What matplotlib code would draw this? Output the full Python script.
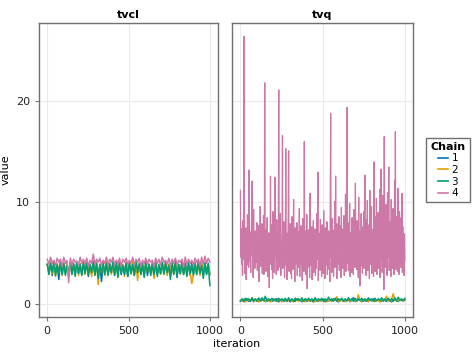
import numpy as np
import matplotlib.pyplot as plt

# chain colours (Wong palette)
colors = ["#0072B2", "#E69F00", "#009E73", "#CC79A7"]
chains = ["1", "2", "3", "4"]

# tvcl traces, sampled every 10 iterations
tvcl_1 = [3.9,3.0,4.1,2.8,4.0,3.1,3.8,2.4,4.1,2.9,
          4.0,3.1,3.9,2.8,4.2,3.0,3.9,2.9,4.1,3.0,
          3.8,2.9,4.0,3.1,4.1,2.7,3.9,3.0,4.2,2.9,
          4.0,2.8,3.7,2.2,3.9,3.0,4.1,2.9,4.0,3.1,
          3.9,2.8,4.2,3.0,4.0,2.9,3.8,3.1,4.1,2.7,
          4.0,3.0,3.9,2.8,4.2,3.1,3.9,2.9,4.0,3.0,
          4.1,2.8,3.9,3.1,4.0,2.7,4.2,2.9,3.8,3.0,
          4.0,3.1,4.1,2.9,3.9,2.8,4.0,3.0,4.2,2.6,
          3.9,3.0,4.1,2.9,4.0,3.1,3.8,2.8,4.1,3.0,
          4.0,2.9,4.2,3.1,3.9,2.8,4.1,3.0,4.0,2.9]
tvcl_2 = [3.8,2.9,4.1,3.0,3.9,2.7,4.0,3.1,4.2,2.8,
          3.9,3.0,4.1,2.6,4.0,2.9,3.8,3.1,4.1,2.8,
          4.0,3.0,3.9,2.9,4.2,3.1,3.8,2.7,4.0,3.0,
          4.1,1.9,3.9,3.0,4.0,2.8,4.2,3.1,3.9,2.9,
          4.1,3.0,3.8,2.8,4.0,3.1,3.9,2.7,4.1,3.0,
          4.0,2.9,4.2,3.1,3.9,2.3,4.0,3.0,3.8,2.8,
          4.1,3.1,3.9,2.9,4.0,2.5,4.2,3.0,3.8,2.9,
          4.0,3.1,4.1,2.8,3.9,3.0,4.2,2.9,4.0,3.1,
          3.8,2.9,4.1,3.0,3.9,2.8,4.0,3.1,2.0,2.9,
          4.1,3.0,3.9,2.8,4.2,3.1,4.0,2.9,3.8,3.0]
tvcl_3 = [3.9,2.9,4.0,3.1,4.2,2.8,3.9,3.0,4.1,2.9,
          4.0,2.8,3.8,3.1,4.1,2.9,4.0,2.7,4.2,3.0,
          3.9,2.8,4.1,3.0,4.0,2.9,3.8,3.1,4.2,2.8,
          4.0,2.5,3.9,3.0,4.1,2.9,4.0,2.8,3.9,3.1,
          4.2,2.9,4.0,2.6,4.1,3.0,3.8,2.9,4.0,2.7,
          4.1,3.0,3.9,2.8,4.2,3.1,4.0,2.9,3.8,2.6,
          4.1,3.0,3.9,2.8,4.0,2.9,4.2,2.7,3.9,3.0,
          4.1,2.9,4.0,3.1,3.8,2.4,4.1,2.9,4.0,2.8,
          3.9,3.0,4.2,2.9,4.0,2.7,4.1,3.0,3.9,2.8,
          4.0,2.9,4.1,3.0,3.8,2.5,4.0,2.9,3.9,1.8]
tvcl_4 = [4.4,3.9,4.6,4.0,4.3,3.8,4.5,4.1,4.4,3.7,
          4.6,4.0,4.3,2.1,4.5,3.9,4.4,4.1,4.2,3.8,
          4.6,4.0,4.4,3.9,4.5,3.7,4.3,4.0,4.9,3.9,
          4.4,4.1,4.5,3.8,4.3,4.0,4.6,3.9,4.4,4.1,
          4.6,3.8,4.3,4.0,4.5,3.7,4.4,4.1,4.5,3.9,
          4.3,4.0,4.6,3.8,4.4,4.1,4.5,3.7,4.3,4.0,
          4.5,3.9,4.4,4.1,4.3,3.6,4.5,4.0,4.4,3.8,
          4.6,4.1,4.3,3.9,4.5,3.7,4.4,4.0,4.5,3.9,
          4.3,4.1,4.4,3.6,4.6,3.9,4.4,4.0,4.3,3.8,
          4.5,4.1,4.4,3.7,4.6,3.9,4.7,4.0,4.5,4.1]

# tvq traces, chains 1-3 every 10 iterations
tvq_1 = [0.30,0.40,0.20,0.35,0.50,0.25,0.30,0.45,0.20,0.40,
         0.30,0.55,0.25,0.35,0.40,0.20,0.45,0.30,0.35,0.25,
         0.40,0.30,0.50,0.20,0.35,0.45,0.25,0.30,0.40,0.35,
         0.20,0.45,0.30,0.25,0.50,0.35,0.40,0.20,0.30,0.45,
         0.25,0.35,0.40,0.30,0.20,0.50,0.35,0.25,0.40,0.30,
         0.45,0.20,0.35,0.30,0.40,0.25,0.50,0.35,0.30,0.20,
         0.40,0.45,0.25,0.35,0.30,0.40,0.20,0.35,0.60,0.25,
         0.30,0.40,0.35,0.20,0.45,0.30,0.25,0.40,0.35,0.30,
         0.50,0.25,0.35,0.40,0.20,0.30,0.45,0.35,0.25,0.40,
         0.30,0.20,0.35,0.45,0.30,0.25,0.40,0.35,0.30,0.40]
tvq_2 = [0.25,0.35,0.45,0.20,0.30,0.40,0.30,0.60,0.25,0.35,
         0.40,0.20,0.30,0.45,0.35,0.25,0.40,0.30,0.20,0.35,
         0.50,0.30,0.25,0.40,0.35,0.20,0.30,0.45,0.25,0.35,
         0.40,0.30,0.20,0.55,0.35,0.25,0.40,0.30,0.35,0.20,
         0.45,0.30,0.25,0.35,0.40,0.20,0.30,0.35,0.25,0.45,
         0.30,0.40,0.20,0.35,0.30,0.25,0.40,0.35,0.70,0.30,
         0.25,0.40,0.30,0.20,0.35,0.45,0.25,0.30,0.40,0.35,
         0.20,0.90,0.30,0.25,0.40,0.35,0.30,0.20,0.45,0.35,
         0.25,0.40,0.30,0.35,0.20,0.50,0.30,0.40,0.75,0.25,
         0.35,0.30,1.00,0.40,0.25,0.35,0.30,0.45,0.35,0.30]
tvq_3 = [0.25,0.50,0.30,0.55,0.35,0.50,0.25,0.60,0.30,0.50,
         0.25,0.55,0.35,0.60,0.30,0.75,0.25,0.50,0.35,0.55,
         0.30,0.50,0.25,0.55,0.35,0.50,0.30,0.55,0.25,0.60,
         0.30,0.50,0.25,0.55,0.35,0.50,0.30,0.60,0.25,0.50,
         0.35,0.55,0.30,0.50,0.25,0.60,0.30,0.50,0.35,0.55,
         0.25,0.50,0.30,0.65,0.35,0.50,0.25,0.55,0.30,0.50,
         0.35,0.55,0.25,0.50,0.30,0.60,0.35,0.50,0.25,0.55,
         0.30,0.50,0.35,0.55,0.25,0.50,0.30,0.60,0.35,0.50,
         0.25,0.55,0.30,0.50,0.35,0.60,0.25,0.50,0.30,0.55,
         0.35,0.50,0.25,0.60,0.30,0.65,0.35,0.50,0.30,0.55]
# chain 4 of tvq, 400 samples
tvq_4 = [11.2,4.6,7.4,3.9,6.1,2.8,8.2,4.4,5.6,26.4,3.0,6.8,4.9,7.5,2.4,5.9,3.8,8.8,5.1,6.3,
         3.6,13.2,4.2,7.1,5.3,3.1,6.4,8.4,12.1,4.7,5.8,2.6,9.3,4.0,6.6,3.5,7.2,5.0,4.1,6.9,
         8.0,3.3,6.2,4.8,7.7,2.2,5.9,4.5,9.6,3.7,6.5,5.2,7.9,3.0,5.5,4.4,8.7,2.9,6.0,21.8,
         4.3,7.3,3.2,6.7,5.6,8.5,2.7,5.7,4.6,7.0,1.6,6.3,3.9,12.6,4.8,7.8,3.4,5.6,2.5,9.1,
         4.2,6.4,3.1,7.6,12.5,4.7,5.8,2.9,8.3,4.0,6.9,3.3,7.4,21.1,5.1,6.0,3.6,8.9,2.8,5.7,
         4.4,7.2,16.6,3.5,6.5,5.0,8.1,2.6,5.9,4.2,15.3,3.8,7.0,2.4,6.3,4.9,9.0,15.1,3.2,6.7,
         4.6,7.9,3.0,5.6,2.5,8.6,4.1,6.2,3.4,10.3,5.3,5.8,2.2,7.5,3.9,6.6,4.7,8.0,2.8,5.4,
         3.6,7.1,4.8,9.4,2.7,6.0,3.9,7.7,5.2,5.5,2.3,8.4,4.1,6.3,3.2,16.0,4.6,7.2,2.9,5.9,
         4.0,8.8,1.5,6.5,3.6,7.3,4.9,5.7,2.6,10.9,3.8,6.8,5.0,7.6,2.4,5.3,4.3,8.2,3.1,6.1,
         4.7,7.4,2.8,5.9,3.5,8.9,4.4,6.4,13.0,2.3,7.0,4.0,5.6,3.3,8.3,5.2,6.2,2.7,7.8,4.1,
         5.7,3.0,9.2,4.5,6.6,2.5,7.5,3.8,5.8,4.9,8.1,2.9,6.9,4.2,7.2,3.4,5.5,2.2,9.7,18.8,
         4.6,6.7,3.1,8.4,5.0,5.9,2.7,7.3,4.3,10.1,3.6,12.6,4.8,6.4,2.5,7.9,3.9,5.8,4.4,8.6,
         3.3,6.2,4.7,7.7,2.6,9.5,4.1,6.0,3.5,7.4,5.1,8.7,2.8,5.7,4.5,10.8,3.2,7.1,4.9,19.4,
         4.0,8.0,3.3,6.3,5.4,9.9,2.7,7.0,4.6,5.9,3.1,8.5,4.8,6.6,2.9,9.3,4.2,7.5,3.6,11.9,
         4.9,6.1,3.4,8.2,4.3,5.6,2.6,10.5,5.0,7.2,1.8,6.4,3.7,8.9,4.5,7.6,3.0,5.8,4.7,9.1,
         3.5,7.0,12.7,4.2,6.5,2.8,8.3,4.8,10.2,3.3,5.9,4.6,7.8,2.5,11.2,3.9,6.8,5.2,9.6,3.0,
         7.3,4.4,6.0,2.7,14.0,4.9,8.6,3.2,7.1,5.3,10.4,2.9,6.7,4.1,9.0,3.5,7.7,4.8,11.3,2.6,
         6.2,13.3,4.5,8.4,3.1,10.7,5.0,7.2,1.4,16.5,4.2,6.9,3.6,9.8,5.1,7.5,2.8,11.0,4.6,6.4,
         13.5,3.3,8.1,4.9,7.0,2.7,10.3,4.4,6.5,3.5,9.4,5.2,7.8,2.9,12.2,4.1,17.0,3.4,8.6,4.7,
         6.8,3.2,11.4,4.6,7.4,2.9,9.1,4.0,6.3,3.6,8.5,5.0,10.9,3.1,7.6,4.4,5.9,2.8,6.9,4.3]

tvcl = [tvcl_1, tvcl_2, tvcl_3, tvcl_4]
tvq = [tvq_1, tvq_2, tvq_3, tvq_4]

plt.rcParams['font.family'] = ['DejaVu Sans']
plt.rcParams['font.size'] = 8

fig = plt.figure(figsize=(4.74, 3.55), dpi=100)
ax1 = fig.add_axes([0.0823, 0.107, 0.3776, 0.828])
ax2 = fig.add_axes([0.4895, 0.107, 0.382, 0.828])

for ax, data, title in [(ax1, tvcl, "tvcl"), (ax2, tvq, "tvq")]:
    for i in range(4):
        x = np.linspace(1, 1000, len(data[i]))
        lw = 0.9 if len(data[i]) > 100 else 1.1
        ax.plot(x, data[i], color=colors[i], lw=lw, label=chains[i])
    ax.set_xlim(-50, 1050)
    ax.set_ylim(-1.3, 27.7)
    ax.set_xticks([0, 500, 1000])
    ax.set_yticks([0, 10, 20])
    ax.grid(True, color="#ebebeb", lw=0.8)
    ax.set_axisbelow(True)
    ax.set_title(title, fontweight="bold", fontsize=8, pad=4)
    for s in ax.spines.values():
        s.set_color("#707070")
        s.set_linewidth(1.0)
    ax.tick_params(colors="#707070", labelcolor="#222222", length=3, width=0.8)

ax2.tick_params(left=False, labelleft=False)
ax1.set_ylabel("value", labelpad=4)
fig.text(0.5, 0.03, "iteration", ha="center", va="center", fontsize=8)

h, l = ax2.get_legend_handles_labels()
leg = fig.legend(h, l, title="Chain", loc="center left", bbox_to_anchor=(0.899, 0.521),
                 borderaxespad=0, fontsize=7.5, title_fontproperties={"weight": "bold", "size": 8},
                 handlelength=1.0, handletextpad=0.3, fancybox=False, framealpha=1,
                 edgecolor="#707070", borderpad=0.4, labelspacing=0.15)
leg.get_frame().set_linewidth(1.0)
for line in leg.get_lines():
    line.set_linewidth(1.2)

fig.savefig("out.png", dpi=100)
